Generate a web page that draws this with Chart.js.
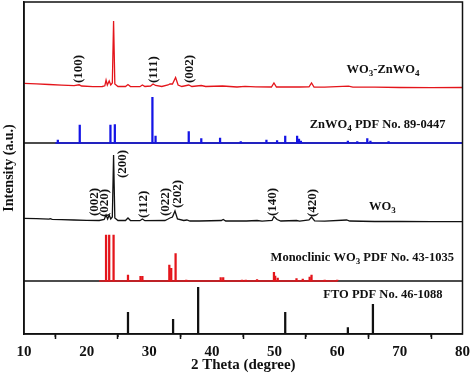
<!DOCTYPE html>
<html>
<head>
<meta charset="utf-8">
<script src="https://cdn.jsdelivr.net/npm/chart.js@4/dist/chart.umd.min.js"></script>
<style>
  html, body { margin: 0; padding: 0; background: #fff; }
  #wrap { width: 474px; height: 375px; }
</style>
</head>
<body>
<div id="wrap"><canvas id="XrdChart" width="474" height="375"></canvas></div>
<script>
(function () {
  "use strict";

  // colors
  const c_red   = '#e4151b';
  const c_blue  = '#1414e6';
  const c_black = '#111111';
  const font_family = '"Liberation Serif", "Times New Roman", serif';

  // 2 theta axis
  const theta_ticks = [10, 20, 30, 40, 50, 60, 70, 80];
  const theta_minor = [15, 25, 35, 45, 55, 65, 75];

  // WO3-ZnWO4 measured pattern [2theta, intensity a.u.]
  const wo3_znwo4_theta = [10, 12, 14, 16, 18, 18.8, 19.2, 21, 22.5, 22.9, 23.1, 23.3, 23.6, 23.85, 24.1, 24.3, 24.5, 25, 26.2, 26.6, 27, 28.5, 28.9, 29.3, 30.2, 30.6, 31, 32, 33, 33.3, 33.7, 34.2, 34.6, 35.2, 36.3, 36.8, 38.3, 39, 41.7, 44, 45.3, 47, 49.5, 49.9, 50.3, 52, 54, 55.5, 55.9, 56.3, 58, 61.8, 62.5, 66, 70, 75, 80];
  const wo3_znwo4_int   = [4.7, 4.2, 3.5, 2.8, 2.3, 3.2, 2, 1.3, 1.5, 2.2, 8, 3, 7, 3, 5, 67, 4, 1.5, 1.5, 3.5, 1.5, 1.3, 3, 1.5, 2, 4, 2.5, 1.5, 3, 4, 4, 10.5, 3, 1.5, 3, 1.5, 2.5, 1.5, 2, 1, 1.6, 1.2, 1, 5, 1, 1, 1, 1.2, 5, 1, 0.8, 1.8, 0.8, 0.8, 0.5, 0.4, 0.5];

  // ZnWO4 PDF No. 89-0447 [2theta, relative intensity]
  const znwo4_theta = [15.4, 18.9, 23.8, 24.5, 30.5, 31.0, 36.3, 38.3, 41.3, 44.6, 48.7, 50.4, 51.7, 53.6, 53.9, 54.2, 61.7, 63.2, 64.8, 65.3, 68.2];
  const znwo4_int   = [3, 18, 18, 18.3, 45.7, 7, 11.3, 4.3, 5, 1.5, 3, 2.5, 7, 7, 4, 2, 2, 1.5, 4.5, 2, 1.5];

  // WO3 measured pattern
  const wo3_theta = [10, 12, 14, 14.2, 14.5, 16, 18, 20, 22, 22.8, 23.1, 23.35, 23.6, 23.85, 24.1, 24.3, 24.5, 25, 26.2, 26.6, 27, 28.5, 28.9, 29.3, 32.5, 33.0, 33.3, 33.7, 34.1, 34.5, 35.5, 36, 36.5, 38, 41.5, 41.8, 42.2, 45.5, 47.2, 48, 49.6, 49.9, 50.4, 51, 53.5, 54, 55.5, 55.9, 56.4, 58, 61.5, 62, 66, 70, 75, 80];
  const wo3_int   = [3.7, 3.3, 2.8, 3.4, 2.7, 2.3, 2, 1.6, 1.5, 2.5, 7, 3, 7, 3, 5, 67, 4, 1.5, 1.5, 4, 1.5, 1.3, 3, 1.3, 1.5, 3, 4, 5, 11, 3, 1.5, 2, 1, 1, 1.5, 2.5, 1, 1, 1.5, 0.8, 1.5, 5.5, 2.5, 1, 1.5, 0.8, 2, 5, 1.2, 0.8, 2, 1, 0.5, 0.5, 0.3, 0.3];

  // Monoclinic WO3 PDF No. 43-1035
  const mono_theta = [23.1, 23.6, 24.3, 26.6, 28.6, 28.9, 33.2, 33.5, 34.2, 35.9, 41.4, 41.8, 44.8, 45.4, 47.2, 49.9, 50.1, 50.5, 53.5, 54.5, 55.6, 55.9, 58.0, 60.0];
  const mono_int   = [46, 46, 46, 6, 4.7, 4.7, 16, 12.7, 27.3, 1, 3.3, 3.3, 1, 1, 1.5, 8.7, 5, 3, 2.5, 2, 4, 6, 1, 1];

  // FTO PDF No. 46-1088
  const fto_theta = [26.6, 33.8, 37.8, 51.7, 61.7, 65.7];
  const fto_int   = [21.7, 14.7, 46.7, 21.7, 6.3, 29.7];

  // stacking offsets of the panels (same a.u. as the y scale)
  const off_wo3_znwo4 = 246;
  const off_znwo4     = 191;
  const off_wo3       = 112;
  const off_mono      = 53;
  const off_fto       = 0;
  const y_max         = 332;

  // peak indexes [label, 2theta, y bottom]
  const peak_labels = [
    ['(100)', 18.8, 251], ['(111)', 30.7, 251], ['(002)', 36.5, 251],
    ['(002)', 21.2, 118], ['(020)', 22.85, 117], ['(200)', 25.75, 156],
    ['(112)', 29.05, 116], ['(022)', 32.6, 118], ['(202)', 34.5, 126],
    ['(140)', 49.7, 118], ['(420)', 56.15, 117]
  ];
  // panel names [text, 2theta center, y center], _n = subscript
  const panel_labels = [
    ['WO_3-ZnWO_4', 67.3, 264],
    ['ZnWO_4 PDF No. 89-0447', 66.45, 209],
    ['WO_3', 67.2, 127],
    ['Monoclinic WO_3 PDF No. 43-1035', 64.0, 76],
    ['FTO PDF No. 46-1088', 67.3, 39]
  ];
  const znwo4_range = [15, 80];
  const mono_range  = [22, 60];

  // helpers
  function toPoints(thetas, ints, offset) {
    return thetas.map((t, i) => ({ x: t, y: offset + ints[i] }));
  }
  function toSticks(thetas, ints, offset) {
    return thetas.map((t, i) => ({ x: t, y: [offset, offset + ints[i]] }));
  }
  function traceSet(label, data, color) {
    return { type: 'line', label: label, data: data, borderColor: color, borderWidth: 1.3,
      pointRadius: 0, tension: 0, fill: false, showLine: true };
  }
  function stickSet(label, data, color) {
    return { type: 'bar', label: label, data: data, backgroundColor: color, borderWidth: 0,
      barThickness: 1.6, grouped: false };
  }
  function baseSet(label, range, offset, color) {
    return traceSet(label, [{ x: range[0], y: offset }, { x: range[1], y: offset }], color);
  }

  function drawRich(ctx, str, cx, cy, size) {
    const parts = str.split(/_(\d)/);
    const big = 'bold ' + size + 'px ' + font_family;
    const small = 'bold ' + Math.round(size * 0.68) + 'px ' + font_family;
    let w = 0;
    parts.forEach((p, i) => { ctx.font = i % 2 ? small : big; w += ctx.measureText(p).width; });
    let x = cx - w / 2;
    ctx.textAlign = 'left';
    ctx.textBaseline = 'middle';
    parts.forEach((p, i) => {
      ctx.font = i % 2 ? small : big;
      ctx.fillText(p, x, cy + (i % 2 ? size * 0.3 : 0));
      x += ctx.measureText(p).width;
    });
  }

  const xrdDecor = {
    id: 'xrdDecor',
    beforeDatasetsDraw(chart) {
      const { ctx, chartArea: a, scales: { y } } = chart;
      ctx.save();
      ctx.strokeStyle = c_black;
      ctx.lineWidth = 1.5;
      [off_znwo4, off_mono].forEach(v => {
        const py = y.getPixelForValue(v);
        ctx.beginPath(); ctx.moveTo(a.left, py); ctx.lineTo(a.right, py); ctx.stroke();
      });
      ctx.restore();
    },
    afterDatasetsDraw(chart) {
      const { ctx, chartArea: a, scales: { x, y } } = chart;
      ctx.save();
      // frame
      ctx.strokeStyle = c_black;
      ctx.lineWidth = 1.5;
      ctx.strokeRect(a.left, a.top, a.right - a.left, a.bottom - a.top);
      // minor ticks
      theta_minor.forEach(t => {
        const px = x.getPixelForValue(t);
        ctx.beginPath(); ctx.moveTo(px, a.bottom); ctx.lineTo(px, a.bottom + 3); ctx.stroke();
      });
      ctx.fillStyle = c_black;
      // peak indexes, vertical
      peak_labels.forEach(([txt, t, v]) => {
        ctx.save();
        ctx.translate(x.getPixelForValue(t), y.getPixelForValue(v));
        ctx.rotate(-Math.PI / 2);
        ctx.font = 'bold 13px ' + font_family;
        ctx.textAlign = 'left';
        ctx.textBaseline = 'middle';
        ctx.fillText(txt, 0, 0);
        ctx.restore();
      });
      // panel names
      panel_labels.forEach(([txt, t, v]) => {
        drawRich(ctx, txt, x.getPixelForValue(t), y.getPixelForValue(v), 12.5);
      });
      ctx.restore();
    }
  };

  const ctx = document.getElementById('XrdChart').getContext('2d');
  new Chart(ctx, {
    type: 'scatter',
    data: {
      datasets: [
        baseSet('ZnWO4 base', znwo4_range, off_znwo4, c_blue),
        baseSet('WO3 base', mono_range, off_mono, c_red),
        traceSet('WO3-ZnWO4', toPoints(wo3_znwo4_theta, wo3_znwo4_int, off_wo3_znwo4), c_red),
        stickSet('ZnWO4 PDF No. 89-0447', toSticks(znwo4_theta, znwo4_int, off_znwo4), c_blue),
        traceSet('WO3', toPoints(wo3_theta, wo3_int, off_wo3), c_black),
        stickSet('Monoclinic WO3 PDF No. 43-1035', toSticks(mono_theta, mono_int, off_mono), c_red),
        stickSet('FTO PDF No. 46-1088', toSticks(fto_theta, fto_int, off_fto), c_black)
      ]
    },
    options: {
      responsive: false,
      animation: false,
      layout: { padding: { top: 2, right: 8, left: 0, bottom: 0 } },
      plugins: {
        legend: { display: false },
        tooltip: { enabled: false }
      },
      scales: {
        x: {
          type: 'linear',
          min: 10,
          max: 80,
          offset: false,
          afterFit: (s) => { s.height = 41; },
          afterBuildTicks: (s) => { s.ticks = theta_ticks.map(v => ({ value: v })); },
          ticks: {
            color: c_black,
            padding: 4,
            font: { family: font_family, size: 15, weight: 'bold' }
          },
          grid: { display: true, drawOnChartArea: false, tickLength: 5, tickWidth: 1.5, tickColor: c_black },
          border: { display: true, color: c_black, width: 1.5 },
          title: {
            display: true,
            text: '2 Theta (degree)',
            color: c_black,
            padding: { top: 0, bottom: 1 },
            font: { family: font_family, size: 15, weight: 'bold' }
          }
        },
        y: {
          type: 'linear',
          min: 0,
          max: y_max,
          afterFit: (s) => { s.width = 24; },
          ticks: { display: false },
          grid: { display: false },
          border: { display: true, color: c_black, width: 1.5 },
          title: {
            display: true,
            text: 'Intensity (a.u.)',
            color: c_black,
            padding: { top: 1, bottom: 0 },
            font: { family: font_family, size: 14, weight: 'bold' }
          }
        }
      }
    },
    plugins: [xrdDecor]
  });
})();
</script>
</body>
</html>
